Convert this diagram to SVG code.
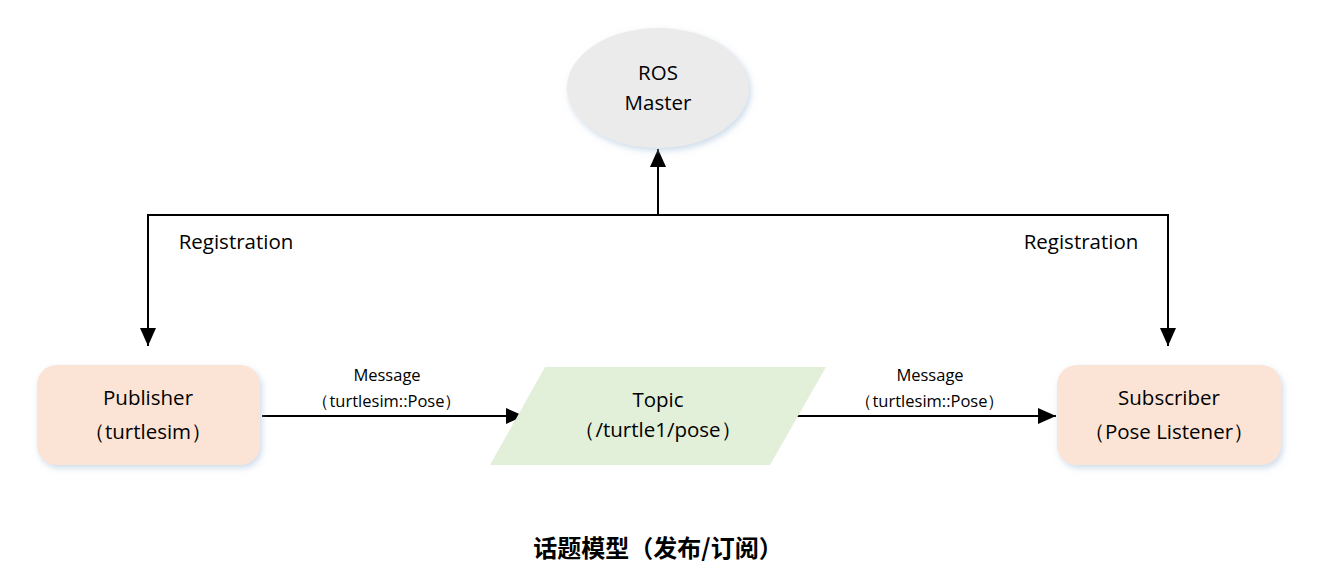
<svg xmlns="http://www.w3.org/2000/svg" width="1326" height="583" viewBox="0 0 1326 583">
<style>
text{font-family:"Open Sans","Noto Sans",sans-serif;fill:#000;text-anchor:middle}
.n{font-size:20.5px}.s{font-size:16.5px}
.c{fill:none;stroke:#000;stroke-width:2}
</style>
<defs>
<marker id="b" markerWidth="18" markerHeight="16" refX="18" refY="8" orient="auto" markerUnits="userSpaceOnUse"><path d="M0,0L18,8L0,16z" fill="#000"/></marker>
<filter id="sh" x="-10%" y="-10%" width="130%" height="130%"><feDropShadow dx="2" dy="3" stdDeviation="3" flood-color="#9bb7d4" flood-opacity="0.5"/></filter>
</defs>
<rect width="1326" height="583" fill="#fff"/>
<g id="connectors">
<path class="c" d="M148,346V215H1168V346" marker-end="url(#b)"/>
<path class="c" d="M148,215V346" marker-end="url(#b)"/>
<path class="c" d="M658,215V149" marker-end="url(#b)"/>
<path class="c" d="M262,416H524" marker-end="url(#b)"/>
<path class="c" d="M794,416H1056" marker-end="url(#b)"/>
<text class="n" x="236" y="249">Registration</text>
<text class="n" x="1081" y="249">Registration</text>
<text class="s" x="387" y="381">Message</text>
<text class="s" x="387" y="407">（turtlesim::Pose）</text>
<text class="s" x="930" y="381">Message</text>
<text class="s" x="930" y="407">（turtlesim::Pose）</text>
</g>
<g id="master"><ellipse cx="658" cy="88" rx="91" ry="60" fill="#ebebeb" filter="url(#sh)"/>
<text class="n" x="658" y="80">ROS</text><text class="n" x="658" y="110">Master</text></g>
<g id="publisher"><rect x="37" y="365" width="223" height="100" rx="20" fill="#fbe4d5" filter="url(#sh)"/>
<text class="n" x="148" y="405">Publisher</text><text class="n" x="148" y="439">（turtlesim）</text></g>
<g id="topic"><polygon points="545,367 826,367 770,465 490,465" fill="#e2efd9"/>
<text class="n" x="658" y="407">Topic</text><text class="n" x="658" y="437">（/turtle1/pose）</text></g>
<g id="subscriber"><rect x="1057" y="365" width="224" height="100" rx="20" fill="#fbe4d5" filter="url(#sh)"/>
<text class="n" x="1169" y="405">Subscriber</text><text class="n" x="1169" y="439">（Pose Listener）</text></g>
<text x="658" y="557" style="font-family:'Noto Sans CJK SC',sans-serif;font-size:24px;font-weight:bold">话题模型（发布/订阅）</text>
</svg>
